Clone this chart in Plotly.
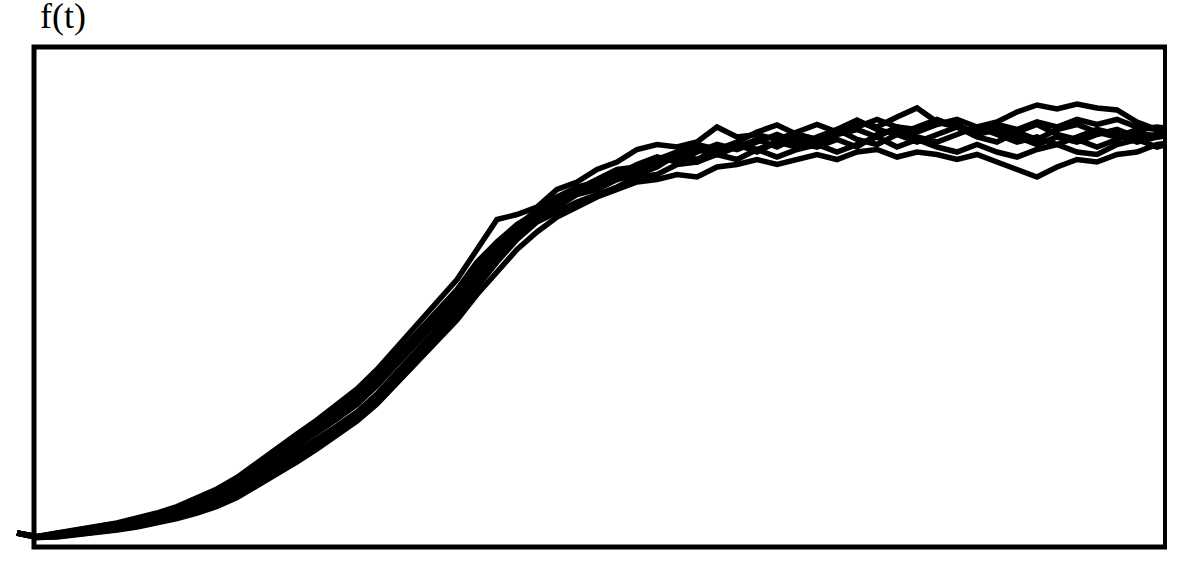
import plotly.graph_objects as go

# time grid (t units; 1 unit = 10 px in the reference)
t = [0, 2, 4, 6, 8, 10, 12, 14, 16, 18, 20, 22, 24, 26, 28, 30, 32, 34, 36, 38,
     40, 42, 44, 46, 48, 50, 52, 54, 56, 58, 60, 62, 64, 66, 68, 70, 72, 74, 76, 78,
     80, 82, 84, 86, 88, 90, 92, 94, 96, 98, 100, 102, 104, 106, 108, 110, 112, 114, 116]

s1 = [2.8, 2.1, 2.8, 3.4, 4.1, 4.8, 5.8, 6.8, 8.1, 9.8, 11.6, 13.9, 16.9, 19.8, 22.6, 25.4, 28.4, 31.6, 35.5, 40.0,
      44.5, 49.0, 53.5, 59.5, 65.5, 66.5, 68.0, 71.5, 73.0, 75.5, 77.0, 79.5, 80.5, 80.0, 81.0, 84.0, 82.0, 82.5, 81.5, 83.0,
      84.5, 83.0, 84.0, 85.5, 84.0, 83.5, 85.0, 84.0, 82.5, 84.5, 83.0, 81.5, 83.5, 84.5, 83.0, 82.0, 83.5, 84.0, 83.5]
s2 = [2.8, 1.9, 2.0, 2.4, 2.9, 3.4, 4.0, 4.8, 5.7, 6.8, 8.1, 9.9, 12.2, 14.6, 17.0, 19.6, 22.3, 25.2, 28.6, 32.8,
      37.0, 41.2, 45.4, 50.5, 55.2, 59.5, 63.0, 66.0, 68.0, 70.0, 71.5, 73.0, 73.5, 74.5, 74.0, 76.0, 76.5, 77.5, 76.5, 77.5,
      78.5, 77.5, 79.0, 79.5, 78.0, 79.0, 78.5, 77.5, 78.5, 77.0, 75.5, 74.0, 76.0, 77.5, 77.0, 78.5, 79.0, 80.5, 81.0]
s3 = [2.8, 2.0, 2.5, 3.1, 3.8, 4.5, 5.3, 6.3, 7.5, 9.0, 10.7, 12.9, 15.7, 18.5, 21.2, 24.0, 26.8, 29.8, 33.8, 38.0,
      42.3, 46.5, 51.0, 56.5, 61.0, 64.5, 67.0, 69.5, 71.0, 73.0, 74.0, 75.5, 77.5, 78.5, 79.5, 78.5, 80.0, 81.5, 80.0, 82.0,
      81.0, 82.5, 83.5, 82.0, 84.0, 83.0, 84.5, 85.5, 84.0, 85.0, 87.0, 88.4, 87.6, 88.6, 87.8, 87.4, 85.0, 83.5, 83.0]
s4 = [2.8, 2.0, 2.2, 2.7, 3.2, 3.7, 4.5, 5.3, 6.3, 7.6, 9.1, 11.1, 13.7, 16.2, 18.7, 21.4, 24.2, 27.0, 30.6, 35.0,
      39.2, 43.5, 47.8, 53.5, 58.0, 62.5, 66.0, 68.0, 70.5, 71.5, 73.5, 74.5, 76.5, 78.0, 77.0, 79.0, 80.5, 79.0, 81.0, 82.5,
      81.5, 83.0, 85.0, 84.0, 86.0, 87.8, 85.0, 84.5, 82.5, 83.5, 82.0, 80.5, 82.0, 81.0, 82.5, 83.5, 82.0, 82.5, 82.5]
s5 = [2.8, 2.0, 2.4, 2.9, 3.5, 4.1, 4.9, 5.8, 6.9, 8.3, 9.9, 12.0, 14.7, 17.4, 20.0, 22.8, 25.6, 28.5, 32.3, 36.6,
      40.8, 45.0, 49.2, 55.0, 59.5, 63.5, 66.5, 68.8, 70.8, 72.2, 74.0, 74.5, 76.0, 78.5, 77.5, 79.5, 80.5, 79.5, 81.0, 80.0,
      82.0, 83.5, 81.5, 80.5, 82.5, 81.0, 82.5, 84.0, 82.0, 81.0, 83.0, 84.5, 82.5, 81.5, 80.0, 81.5, 83.0, 82.0, 82.5]
s6 = [2.8, 2.1, 2.7, 3.3, 4.0, 4.7, 5.6, 6.6, 7.8, 9.4, 11.2, 13.5, 16.4, 19.3, 22.0, 24.8, 27.6, 30.5, 34.2, 38.5,
      42.8, 47.0, 51.5, 57.0, 61.0, 64.0, 67.0, 69.5, 71.5, 73.5, 75.5, 76.0, 77.5, 79.0, 80.5, 79.5, 81.0, 83.0, 84.4, 82.5,
      81.5, 83.5, 85.4, 83.5, 82.5, 84.0, 85.5, 84.0, 83.0, 84.5, 83.5, 85.0, 84.0, 85.5, 84.5, 85.5, 84.0, 83.5, 84.0]
s7 = [2.8, 1.9, 2.1, 2.5, 3.0, 3.5, 4.2, 5.0, 5.9, 7.1, 8.6, 10.5, 13.0, 15.5, 18.0, 20.6, 23.3, 26.2, 29.6, 33.8,
      38.0, 42.0, 46.5, 52.0, 57.0, 61.5, 65.0, 67.0, 69.0, 70.5, 72.0, 74.0, 74.5, 76.5, 77.0, 78.5, 77.5, 79.5, 78.0, 79.5,
      80.5, 79.0, 80.5, 82.0, 80.0, 81.5, 80.0, 79.0, 80.5, 79.0, 78.0, 79.5, 80.5, 79.0, 78.5, 80.5, 81.5, 80.0, 81.0]
s8 = [2.8, 2.0, 2.5, 3.0, 3.6, 4.2, 5.0, 5.9, 7.0, 8.5, 10.1, 12.2, 15.0, 17.8, 20.4, 23.3, 26.1, 29.0, 32.9, 37.3,
      41.6, 46.0, 50.5, 56.0, 60.0, 64.0, 67.5, 70.0, 72.0, 73.0, 74.5, 76.5, 78.0, 77.0, 79.0, 80.5, 79.5, 81.0, 82.5, 81.0,
      80.0, 81.5, 80.0, 82.5, 83.5, 82.0, 81.0, 82.5, 84.0, 82.5, 81.0, 82.0, 80.5, 82.0, 83.5, 82.5, 81.0, 82.0, 82.5]

series = [s1, s2, s3, s4, s5, s6, s7, s8]

fig = go.Figure()
for s in series:
    fig.add_trace(go.Scatter(x=t, y=s, mode="lines",
                             line=dict(color="black", width=5.5, shape="linear"),
                             showlegend=False, hoverinfo="skip"))

# frame box
fig.add_shape(type="rect", xref="x", yref="y", x0=1.7, x1=114.85, y0=0, y1=100,
              line=dict(color="black", width=5), fillcolor="rgba(0,0,0,0)", layer="above")

fig.add_annotation(text="f(t)", xref="paper", yref="paper", x=0.0442, y=1.030,
                   xanchor="center", yanchor="middle", showarrow=False,
                   font=dict(family="Liberation Serif", size=36, color="black"))
fig.add_annotation(text="t", xref="paper", yref="paper", x=0.991, y=0.006,
                   xanchor="center", yanchor="top", showarrow=False,
                   font=dict(family="Liberation Serif", size=30, color="black"))

fig.update_xaxes(range=[-0.5, 115], visible=False, showgrid=False, zeroline=False)
fig.update_yaxes(range=[-3, 103], visible=False, showgrid=False, zeroline=False)
fig.update_layout(width=1188, height=566, margin=dict(l=12, r=21, t=32, b=4),
                  paper_bgcolor="white", plot_bgcolor="white")

fig.write_html("out.html", config={"displayModeBar": False},
               post_script="document.body.style.margin='0';document.body.style.overflow='hidden';")
